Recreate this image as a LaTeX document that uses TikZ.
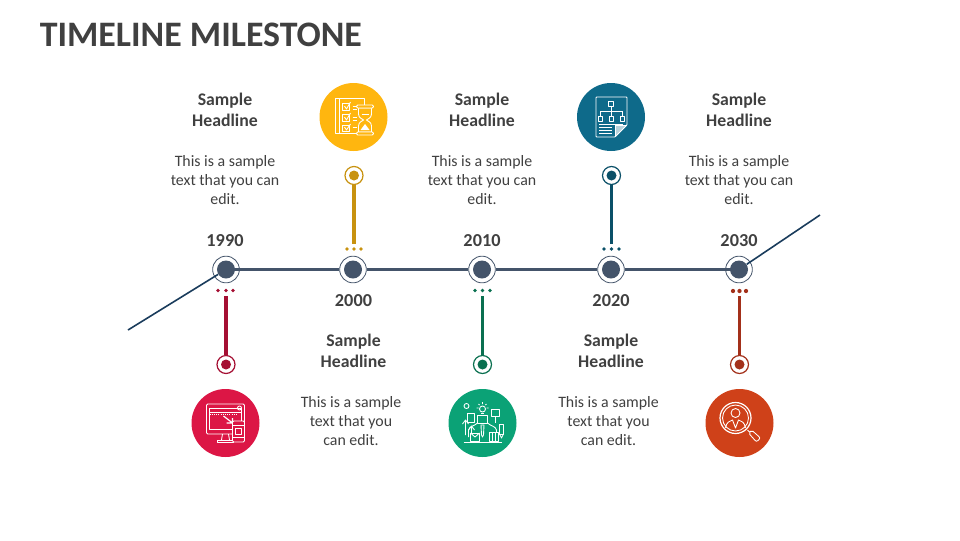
\documentclass[tikz,border=0pt]{standalone}
\usepackage{fontspec}
\setmainfont{Carlito}
\usetikzlibrary{positioning, calc}
\definecolor{axis}{RGB}{68, 84, 106}
\definecolor{slant}{RGB}{26, 60, 92}
\definecolor{textgray}{RGB}{64, 64, 64}
\definecolor{sunA}{RGB}{255, 182, 15}
\definecolor{sunB}{RGB}{200, 146, 15}
\definecolor{tealA}{RGB}{14, 106, 138}
\definecolor{tealB}{RGB}{11, 80, 104}
\definecolor{redA}{RGB}{220, 22, 69}
\definecolor{redB}{RGB}{165, 15, 51}
\definecolor{greenA}{RGB}{11, 162, 118}
\definecolor{greenB}{RGB}{10, 112, 80}
\definecolor{rustA}{RGB}{207, 65, 25}
\definecolor{rustB}{RGB}{163, 48, 26}

\begin{document}
\begin{tikzpicture}[x=0.75pt, y=-0.75pt,
    year/.style={circle, fill=axis, minimum size=13.5pt, inner sep=0pt},
    yearring/.style={circle, draw=axis, line width=0.6pt, minimum size=20pt, inner sep=0pt},
    pin/.style={circle, minimum size=7.5pt, inner sep=0pt},
    pinring/.style={circle, line width=0.9pt, fill=white, minimum size=13.5pt, inner sep=0pt},
    badge/.style={circle, minimum size=51pt, inner sep=0pt},
    speck/.style={circle, minimum size=2.7pt, inner sep=0pt},
    stem/.style={line width=2.4pt},
    yearlabel/.style={font=\fontsize{13.7}{15}\selectfont\bfseries, text=textgray},
    headline/.style={align=center, font=\fontsize{13.3}{15.75}\selectfont\bfseries, text=textgray},
    blurb/.style={align=center, font=\fontsize{11.9}{14.25}\selectfont, text=textgray},
    icon/.style={draw=white, line width=0.65pt, line join=round}]
    \useasboundingbox (0, 0) rectangle (960, 540);

    % Title
    \node[anchor=west, inner sep=0pt, text=textgray, font=\fontsize{26.9}{32}\selectfont\bfseries] (title) at (39.5, 34.5) {TIMELINE MILESTONE};

    % Timeline
    \node[yearring] (r1) at (226, 269.5) {};
    \node[yearring] (r2) at (353, 269.5) {};
    \node[yearring] (r3) at (482, 269.5) {};
    \node[yearring] (r4) at (611, 269.5) {};
    \node[yearring] (r5) at (739, 269.5) {};
    \coordinate (slantL) at (128, 330);
    \coordinate (slantR) at (820, 215);
    \draw[axis, line width=2.6pt] (r1.center) -- (r2) (r2) -- (r3) (r3) -- (r4) (r4) -- (r5.center);
    \node[year] (y1) at (r1) {};
    \node[year] (y2) at (r2) {};
    \node[year] (y3) at (r3) {};
    \node[year] (y4) at (r4) {};
    \node[year] (y5) at (r5) {};
    \draw[slant, line width=1.2pt] (slantL) -- (y1);
    \draw[slant, line width=1.2pt] (y5) -- (slantR);

    % Pins
    \node[pinring, draw=redB] (q1) at (226, 364.5) {};
    \node[pinring, draw=sunB] (q2) at (354, 175.5) {};
    \node[pinring, draw=greenB] (q3) at (482.5, 364.5) {};
    \node[pinring, draw=tealB] (q4) at (611.5, 175.5) {};
    \node[pinring, draw=rustB] (q5) at (739.5, 364.5) {};
    \node[pin, fill=redB] (p1) at (q1) {};
    \node[pin, fill=sunB] (p2) at (q2) {};
    \node[pin, fill=greenB] (p3) at (q3) {};
    \node[pin, fill=tealB] (p4) at (q4) {};
    \node[pin, fill=rustB] (p5) at (q5) {};

    % Dots
    \node[speck, fill=redB] (d1a) at (218, 290.5) {};
    \node[speck, fill=redB] (d1) at (226, 290.5) {};
    \node[speck, fill=redB] (d1c) at (233, 290.5) {};
    \node[speck, fill=sunB] (d2a) at (347, 249) {};
    \node[speck, fill=sunB] (d2) at (354, 249) {};
    \node[speck, fill=sunB] (d2c) at (361, 249) {};
    \node[speck, fill=greenB] (d3a) at (475, 290.5) {};
    \node[speck, fill=greenB] (d3) at (482.5, 290.5) {};
    \node[speck, fill=greenB] (d3c) at (490, 290.5) {};
    \node[speck, fill=tealB] (d4a) at (604, 249) {};
    \node[speck, fill=tealB] (d4) at (611.5, 249) {};
    \node[speck, fill=tealB] (d4c) at (619, 249) {};
    \node[speck, minimum size=3.2pt, fill=rustB] (d5a) at (733, 291) {};
    \node[speck, minimum size=3.2pt, fill=rustB] (d5) at (739.5, 291) {};
    \node[speck, minimum size=3.2pt, fill=rustB] (d5c) at (746, 291) {};

    % Stems
    \draw[stem, redB] ($(d1)+(0, 5.5)$) -- (q1);
    \draw[stem, sunB] (q2) -- ($(d2)+(0, -5)$);
    \draw[stem, greenB] ($(d3)+(0, 5.5)$) -- (q3);
    \draw[stem, tealB] (q4) -- ($(d4)+(0, -5)$);
    \draw[stem, rustB] ($(d5)+(0, 5)$) -- (q5);

    % Badges
    \node[badge, fill=redA] (b1) at (225.5, 423) {};
    \node[badge, fill=sunA] (b2) at (353.5, 117) {};
    \node[badge, fill=greenA] (b3) at (482.5, 423) {};
    \node[badge, fill=tealA] (b4) at (611, 117) {};
    \node[badge, fill=rustA] (b5) at (739.5, 423) {};

    % Years
    \node[yearlabel] (t1) at (225, 240.5) {1990};
    \node[yearlabel] (t2) at (353.5, 300.5) {2000};
    \node[yearlabel] (t3) at (482, 240.5) {2010};
    \node[yearlabel] (t4) at (611, 300.5) {2020};
    \node[yearlabel] (t5) at (739, 240.5) {2030};

    % Text
    \node[headline] (h1) at (225, 110) {Sample\\Headline};
    \node[headline] (h2) at (353.5, 351) {Sample\\Headline};
    \node[headline] (h3) at (482, 110) {Sample\\Headline};
    \node[headline] (h4) at (611, 351) {Sample\\Headline};
    \node[headline] (h5) at (739, 110) {Sample\\Headline};
    \node[blurb] (s1) at (225, 180) {This is a sample\\text that you can\\edit.};
    \node[blurb] (s2) at (351, 421) {This is a sample\\text that you\\can edit.};
    \node[blurb] (s3) at (482, 180) {This is a sample\\text that you can\\edit.};
    \node[blurb] (s4) at (608.5, 421) {This is a sample\\text that you\\can edit.};
    \node[blurb] (s5) at (739, 180) {This is a sample\\text that you can\\edit.};

    % Monitor icon
    \begin{scope}[shift={(b1)}]
        \draw[icon, rounded corners=1pt] (-19, -19) rectangle (19, 11);
        \draw[icon] (-16, -15) rectangle (16, 6);
        \draw[icon] (-16, -11) -- (16, -11);
        \draw[icon, densely dotted] (-16, -9) -- (12, -9);
        \draw[icon] (14, -15) circle (2);
        \draw[icon] (-3, 11) -- (-4, 17) (3, 11) -- (4, 17);
        \draw[icon] (-8, 19) -- (-8, 17) -- (8, 17) -- (8, 19) -- cycle;
        \draw[icon, line width=0.9pt] (-2, -7) -- (7, 0) (7, -5) -- (7, 0) -- (1, 0);
        \draw[icon, fill=redA, rounded corners=1pt] (7, -2) rectangle (19, 19);
        \draw[icon] (7, 2) -- (19, 2) (7, 14) -- (19, 14);
        \draw[icon] (10, 5) rectangle (16, 11);
    \end{scope}

    % Checklist icon
    \begin{scope}[shift={(b2)}]
        \draw[icon] (-18, -19) rectangle (11, 16);
        \draw[icon] (-14, -19) -- (-14, 16);
        \draw[icon] (-11, -14) rectangle (-4, -7);
        \draw[icon] (-11, -3) rectangle (-4, 4);
        \draw[icon] (-11, 8) rectangle (-4, 14);
        \draw[icon] (-9, -11) -- (-7, -8) -- (-3, -15);
        \draw[icon] (-9, 0) -- (-7, 3) -- (-3, -4);
        \draw[icon] (-9, 10) -- (-7, 13) -- (-3, 7);
        \draw[icon] (-1, -11) -- (3, -11) (-1, -8) -- (3, -8) (-1, 0) -- (3, 0) (-1, 3) -- (3, 3) (-1, 10) -- (3, 10);
        \draw[icon, fill=sunA] (5, -9) -- (5, -3) .. controls (5, 1) and (9, 2) .. (10, 3) .. controls (9, 4) and (5, 5) .. (5, 9) -- (5, 15) -- (18, 15) -- (18, 9) .. controls (18, 5) and (14, 4) .. (13, 3) .. controls (14, 2) and (18, 1) .. (18, -3) -- (18, -9) -- cycle;
        \draw[icon, fill=sunA, rounded corners=1pt] (3, -12) rectangle (20, -9);
        \draw[icon, fill=sunA, rounded corners=1pt] (3, 15) rectangle (20, 18);
        \fill[white] (7, 13) -- (11.5, 7) -- (16, 13) -- cycle;
        \draw[icon] (8, -3) -- (15, -3);
    \end{scope}

    % People icon
    \begin{scope}[shift={(b3)}]
        \draw[icon] (-19, 19) -- (19, 19);
        \draw[icon] (0, -14) circle (3);
        \draw[icon] (-1.5, -10) -- (1.5, -10);
        \draw[icon] (-6, -15) -- (-4, -15) (4, -15) -- (6, -15) (0, -21) -- (0, -19) (-4, -19) -- (-3, -18) (4, -19) -- (3, -18);
        \draw[icon] (-5, -8) rectangle (5, 0);
        \draw[icon] (-14, 14) -- (-14, 7) .. controls (-13, 3) and (-8, 3) .. (-5, 0) (14, 14) -- (14, 7) .. controls (13, 3) and (8, 3) .. (5, 0);
        \draw[icon] (-1.5, 2) -- (1.5, 2) -- (1, 12) -- (0, 14) -- (-1, 12) -- cycle;
        \draw[icon] (-16, -17) circle (2.5);
        \draw[icon] (-15, -10) rectangle (-8, -1);
        \draw[icon] (9, -14) rectangle (17, -7);
        \draw[icon] (13, -7) -- (13, 0);
        \draw[icon] (-17, 12) -- (-17, -2) (-20, 1) -- (-17, -3) -- (-14, 1);
        \draw[icon] (-11, 12) -- (-11, 4) (-14, 7) -- (-11, 3) -- (-8, 7);
        \draw[icon] (17, 1) rectangle (21, 11);
        \draw[icon] (17, 11) -- (19, 15) -- (21, 11);
        \draw[icon, fill=greenA] (-12, 10) rectangle (-3, 18);
        \draw[icon] (-12, 10) -- (-7.5, 14) -- (-3, 10);
        \draw[icon, fill=greenA] (7, 9) rectangle (16, 18);
        \draw[icon] (10, 9) -- (10, 18) (13, 9) -- (13, 18);
    \end{scope}

    % Document icon
    \begin{scope}[shift={(b4)}]
        \fill[white!70!tealA] (16, 8) -- (4, 20) -- (4, 8) -- cycle;
        \draw[icon, rounded corners=0.5pt] (4, 20) -- (-15, 20) -- (-15, -20) -- (16, -20) -- (16, 8) -- cycle;
        \draw[icon] (4, 20) -- (4, 8) -- (16, 8);
        \draw[icon] (-2.5, -16) rectangle (2.5, -11);
        \draw[icon] (0, -11) -- (0, -1) (-11, -6) -- (11, -6) (-11, -6) -- (-11, -1) (11, -6) -- (11, -1);
        \draw[icon] (-13, -1) rectangle (-9, 4);
        \draw[icon] (-2, -1) rectangle (2, 4);
        \draw[icon] (9, -1) rectangle (13, 4);
        \draw[icon] (-12, 7) -- (12, 7) (-12, 10) -- (1, 10) (-12, 13) -- (1, 13) (-12, 16) -- (1, 16);
    \end{scope}

    % Magnifier icon
    \begin{scope}[shift={(b5)}]
        \draw[icon, line width=0.9pt] (-4, -5) circle (15.5);
        \draw[icon] (-4, -5) circle (13);
        \draw[icon] (-4, -10) circle (4.5);
        \draw[icon] (-14, 5) .. controls (-13, -1) and (-10, -2) .. (-7, -3) -- (-4, 5) -- (-1, -3) .. controls (2, -2) and (5, -1) .. (6, 5);
        \draw[icon] (8, 7) -- (10, 9);
        \draw[icon, rounded corners=1.5pt] (9, 10) -- (12, 7) -- (21, 15) -- (17, 19) -- cycle;
    \end{scope}
\end{tikzpicture}
\end{document}
